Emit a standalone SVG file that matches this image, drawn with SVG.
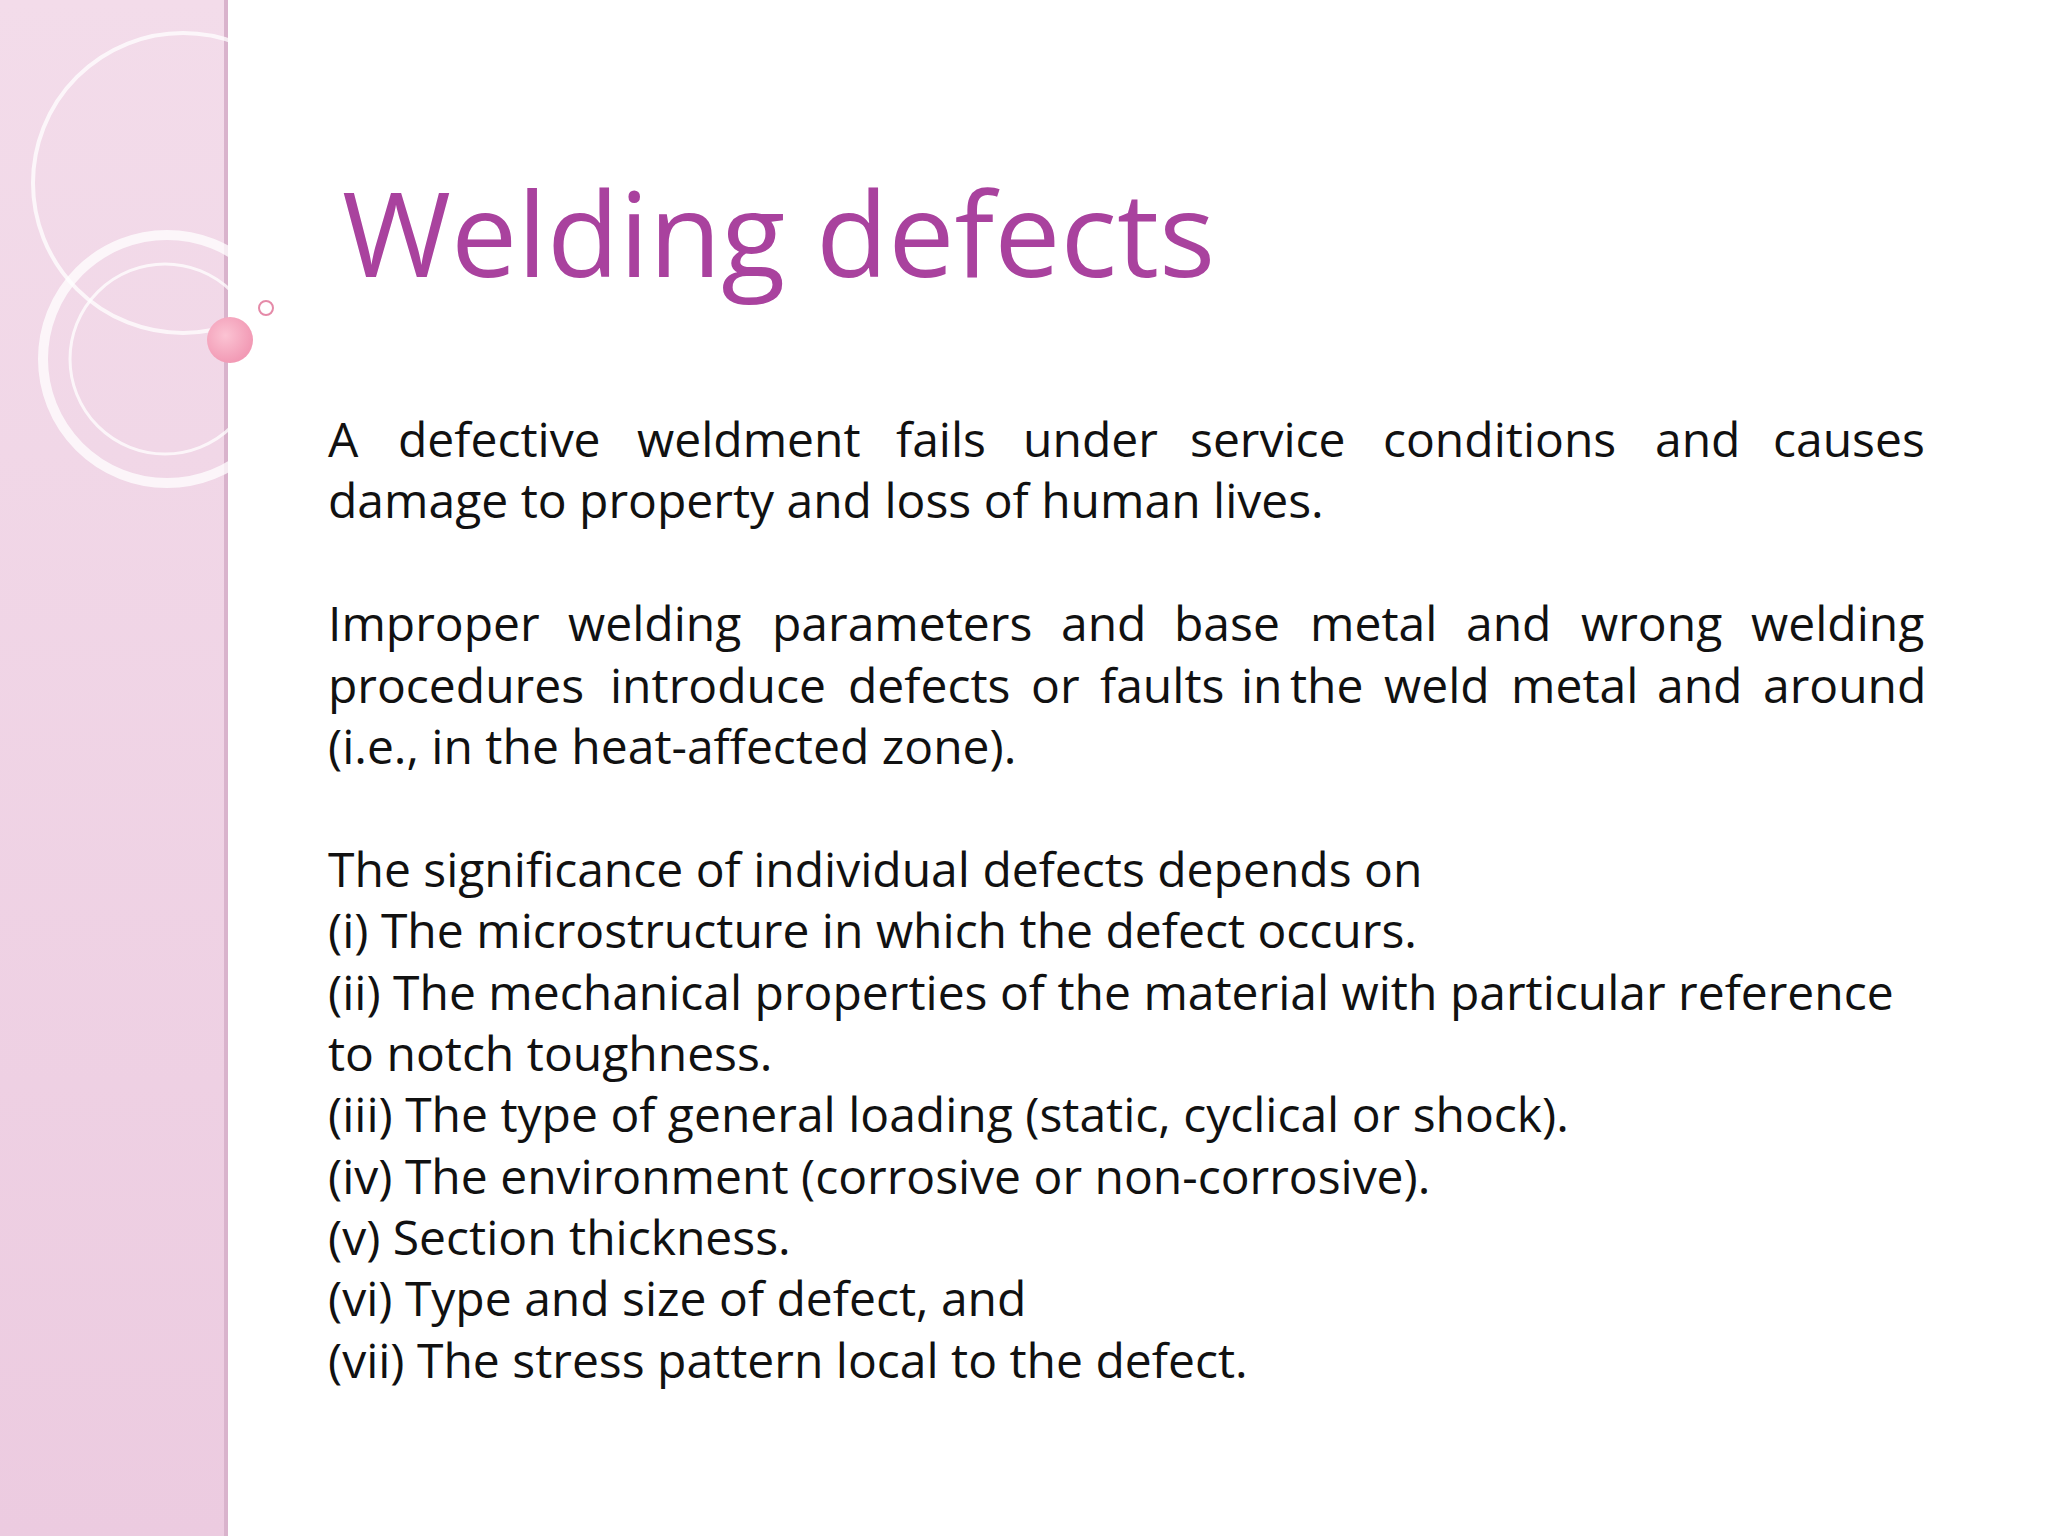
<svg xmlns="http://www.w3.org/2000/svg" width="2048" height="1536" viewBox="0 0 2048 1536">
<defs>
<linearGradient id="band" x1="0" y1="0" x2="0" y2="1"><stop offset="0" stop-color="#f3dcea"/><stop offset="1" stop-color="#eccbe0"/></linearGradient>
<radialGradient id="dot" cx="0.4" cy="0.4" r="0.6"><stop offset="0" stop-color="#fbc3d3"/><stop offset="1" stop-color="#f29ab5"/></radialGradient>
<style>
.body{font-family:"Open Sans","Noto Sans",sans-serif;font-size:48px;fill:#111}
.ring{fill:none;stroke:#fff;stroke-opacity:0.75}
</style>
</defs>
<rect width="2048" height="1536" fill="#fff"/>
<g id="decor">
<rect x="0" y="0" width="227" height="1536" fill="url(#band)"/>
<rect x="224" y="0" width="4" height="1536" fill="#d9b3cc"/>
<circle cx="183" cy="183" r="150" class="ring" stroke-width="4"/>
<circle cx="167" cy="359" r="124" class="ring" stroke-width="10"/>
<circle cx="165" cy="359" r="95" class="ring" stroke-width="3"/>
<circle cx="230" cy="340" r="23" fill="url(#dot)"/>
<circle cx="266" cy="308" r="7" fill="none" stroke="#e58aa8" stroke-width="2"/>
</g>
<g id="title">
<text x="342" y="277" font-family="'Open Sans','Noto Sans',sans-serif" font-size="118" fill="#a9429e">Welding defects</text>
</g>
<g id="body">
<text class="body" y="457"><tspan x="328">A</tspan><tspan x="398">defective</tspan><tspan x="637">weldment</tspan><tspan x="896">fails</tspan><tspan x="1023">under</tspan><tspan x="1190">service</tspan><tspan x="1383">conditions</tspan><tspan x="1655">and</tspan><tspan x="1773">causes</tspan></text>
<text class="body" x="328" y="518">damage to property and loss of human lives.</text>
<text class="body" y="641"><tspan x="328">Improper</tspan><tspan x="568">welding</tspan><tspan x="772">parameters</tspan><tspan x="1061">and</tspan><tspan x="1174">base</tspan><tspan x="1310">metal</tspan><tspan x="1466">and</tspan><tspan x="1581">wrong</tspan><tspan x="1751">welding</tspan></text>
<text class="body" y="703"><tspan x="328">procedures</tspan><tspan x="610">introduce</tspan><tspan x="848">defects</tspan><tspan x="1031">or</tspan><tspan x="1100">faults</tspan><tspan x="1241">in</tspan><tspan x="1290">the</tspan><tspan x="1384">weld</tspan><tspan x="1511">metal</tspan><tspan x="1657">and</tspan><tspan x="1763">around</tspan></text>
<text class="body" x="328" y="764">(i.e., in the heat-affected zone).</text>
<text class="body" x="328" y="887">The significance of individual defects depends on</text>
<text class="body" x="328" y="948">(i) The microstructure in which the defect occurs.</text>
<text class="body" x="328" y="1010">(ii) The mechanical properties of the material with particular reference</text>
<text class="body" x="328" y="1071">to notch toughness.</text>
<text class="body" x="328" y="1132">(iii) The type of general loading (static, cyclical or shock).</text>
<text class="body" x="328" y="1194">(iv) The environment (corrosive or non-corrosive).</text>
<text class="body" x="328" y="1255">(v) Section thickness.</text>
<text class="body" x="328" y="1316">(vi) Type and size of defect, and</text>
<text class="body" x="328" y="1378">(vii) The stress pattern local to the defect.</text>
</g>
</svg>
